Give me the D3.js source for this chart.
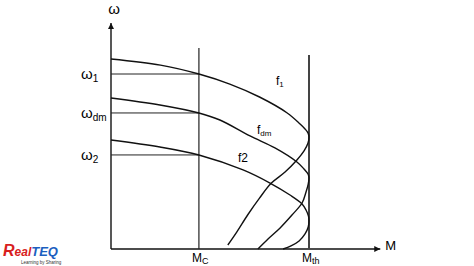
<!DOCTYPE html>
<html>
<head>
<meta charset="utf-8">
<script src="https://cdn.jsdelivr.net/npm/d3@7"></script>
<style>
  body { margin: 0; background: #fff; }
  svg { display: block; font-family: "Liberation Sans", Arial, sans-serif; }
</style>
</head>
<body>
<svg id="chart" width="474" height="266"></svg>
<script>
// torque (M) / speed (omega) points, arbitrary units
const curveNames = ['f1', 'fdm', 'f2'];
const f1 = [[0,100],[25,96.8],[44.4,92.1],[60,86.8],[75,80],[89,71.6],[95.5,65.8],[98,63.2],[99.5,61.1],[100,58.9],[99.5,55.8],[97.5,51.6],[93.9,46.8],[87.9,40.5],[81,34.7],[75,26.8],[69,17.9],[63.5,8.9],[59,2.1]];
const fdm = [[0,79.5],[24.7,75.8],[44.4,71.6],[55,67.9],[70.2,59.5],[82.8,53.2],[93.9,45.8],[97.5,42.1],[99.5,39.5],[100,37.4],[99.6,34.2],[98.5,30],[96.5,24.2],[91.4,17.9],[85.4,11.1],[79.3,5.3],[74.2,0]];
const f2 = [[0,57.4],[24.7,53.7],[44.4,49.5],[66.7,41.6],[80.3,34.7],[90.4,28.4],[96.5,23.7],[98.5,20.5],[99.7,17.4],[100,14.7],[99.6,11.6],[98,7.9],[95,4.2],[90.9,1.6],[86.9,0]];

const speedLevels = [92.1, 71.6, 49.5];
const speedLabels = [['ω', '1'], ['ω', 'dm'], ['ω', '2']];
const torqueLevels = [44.4, 100];
const torqueLabels = [['M', 'C'], ['M', 'th']];
const torqueTops = [105.8, 102.1];
const curveLabels = [['f', '1', 83.3, 86.3], ['f', 'dm', 73.7, 60.5], ['f2', '', 64.1, 45.8]];

const svg = d3.select('#chart');

const x = d3.scaleLinear().domain([0, 100]).range([111, 309]);
const y = d3.scaleLinear().domain([0, 100]).range([249, 59]);

const xMax = 136, yMax = 119;

const defs = svg.append('defs');
defs.append('marker')
    .attr('id', 'arrow')
    .attr('viewBox', '0 0 10 10')
    .attr('refX', 10).attr('refY', 5)
    .attr('markerWidth', 10).attr('markerHeight', 6)
    .attr('markerUnits', 'userSpaceOnUse')
    .attr('orient', 'auto')
    .append('path')
    .attr('d', 'M0,0 L10,5 L0,10 Z')
    .attr('fill', '#111');

// axes
svg.append('line')
    .attr('x1', x(0)).attr('y1', y(0))
    .attr('x2', x(xMax)).attr('y2', y(0))
    .attr('stroke', '#111').attr('stroke-width', 1.4)
    .attr('marker-end', 'url(#arrow)');
svg.append('line')
    .attr('x1', x(0)).attr('y1', y(0))
    .attr('x2', x(0)).attr('y2', y(yMax))
    .attr('stroke', '#111').attr('stroke-width', 1.4)
    .attr('marker-end', 'url(#arrow)');

svg.append('text').attr('x', x(0) + 3).attr('y', 14)
    .attr('text-anchor', 'middle').attr('font-size', 15).text('ω');
svg.append('text').attr('x', x(xMax) + 5).attr('y', y(0) + 1)
    .attr('font-size', 13).text('M');

// horizontal speed guides
svg.selectAll('.hguide')
    .data(speedLevels)
    .enter()
    .append('line')
    .attr('x1', x(0)).attr('x2', x(torqueLevels[0]))
    .attr('y1', d => y(d)).attr('y2', d => y(d))
    .attr('stroke', '#222').attr('stroke-width', 1);

// vertical torque lines
svg.selectAll('.vguide')
    .data(torqueLevels)
    .enter()
    .append('line')
    .attr('x1', d => x(d)).attr('x2', d => x(d))
    .attr('y1', y(0)).attr('y2', (d, i) => y(torqueTops[i]))
    .attr('stroke', (d, i) => i ? '#444' : '#222')
    .attr('stroke-width', (d, i) => i ? 2 : 1.2);

// curves
const line = d3.line()
    .x(d => x(d[0]))
    .y(d => y(d[1]))
    .curve(d3.curveCatmullRom.alpha(0.5));

svg.selectAll('.curve')
    .data([f1, fdm, f2])
    .enter()
    .append('path')
    .attr('class', (d, i) => 'curve ' + curveNames[i])
    .attr('d', line)
    .attr('fill', 'none')
    .attr('stroke', '#111')
    .attr('stroke-width', 1.4);

// labels
const sl = svg.selectAll('.slabel')
    .data(speedLevels)
    .enter()
    .append('text')
    .attr('x', 81)
    .attr('y', d => y(d) + 5)
    .attr('font-size', 15);
sl.append('tspan').text((d, i) => speedLabels[i][0]);
sl.append('tspan').attr('font-size', 10).attr('dy', 3).text((d, i) => speedLabels[i][1]);

const tl = svg.selectAll('.tlabel')
    .data(torqueLevels)
    .enter()
    .append('text')
    .attr('x', d => x(d) - 7)
    .attr('y', y(0) + 13)
    .attr('font-size', 12);
tl.append('tspan').text((d, i) => torqueLabels[i][0]);
tl.append('tspan').attr('font-size', 9).attr('dy', 2).text((d, i) => torqueLabels[i][1]);

const cl = svg.selectAll('.clabel')
    .data(curveLabels)
    .enter()
    .append('text')
    .attr('x', d => x(d[2]))
    .attr('y', d => y(d[3]))
    .attr('font-size', 12);
cl.append('tspan').text(d => d[0]);
cl.append('tspan').attr('font-size', 8).attr('dy', 2).text(d => d[1]);

// logo
const logo = svg.append('g').attr('transform', 'translate(3,256)');
const lt = logo.append('text').attr('font-weight', 'bold').attr('font-style', 'italic');
lt.append('tspan').attr('fill', '#d81e1e').attr('font-size', 16).text('R');
lt.append('tspan').attr('fill', '#d81e1e').attr('font-size', 12).text('eal');
lt.append('tspan').attr('fill', '#1c5fbf').attr('font-size', 13).text('TEQ');
logo.append('text').attr('x', 18).attr('y', 8).attr('font-size', 4.5)
    .attr('fill', '#333').text('Learning by Sharing');
</script>
</body>
</html>
